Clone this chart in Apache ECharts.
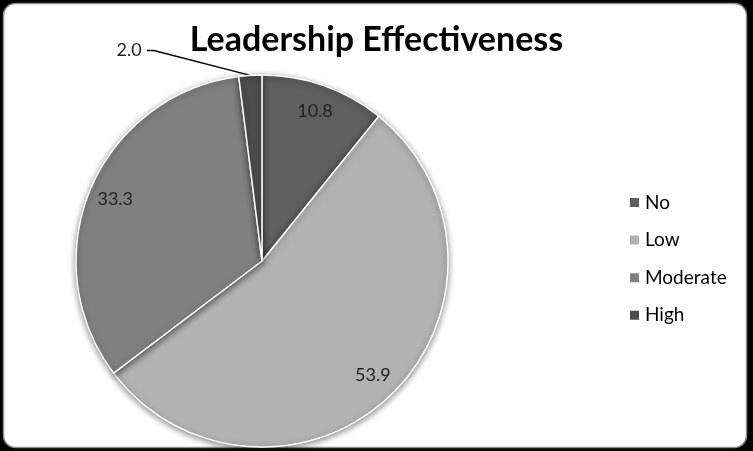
<!DOCTYPE html>
<html>
<head>
<meta charset="utf-8">
<script src="https://cdn.jsdelivr.net/npm/echarts@6/dist/echarts.min.js"></script>
<style>
html,body{margin:0;padding:0;background:#000;}
#chart{width:753px;height:451px;}
</style>
</head>
<body>
<div id="chart"></div>
<script>
const titleText = 'Leadership Effectiveness';
const categories = ['No', 'Low', 'Moderate', 'High'];
const values = [10.8, 53.9, 33.3, 2.0];
const colors = ['#5f5f5f', '#b2b2b2', '#808080', '#4d4d4d'];

const chart = echarts.init(document.getElementById('chart'));
const center = [262, 261];
const R = 186;
const fontFam = 'Lato, "Open Sans", sans-serif';

const sliceData = categories.map((c, i) => ({ name: c, value: values[i], itemStyle: { color: colors[i] } }));
const labelData = categories.map((c, i) => {
  const d = { name: c, value: values[i] };
  if (c === 'High') {
    d.label = { position: 'outside', distanceToLabelLine: 5, padding: [0, 0, 8, 0] };
    d.labelLine = { show: true, length: 25, length2: 102, minTurnAngle: 165.5, lineStyle: { color: '#000', width: 1.5 } };
  }
  return d;
});

chart.setOption({
  backgroundColor: '#000',
  graphic: [{
    type: 'rect', z: -10, silent: true,
    shape: { x: 3.5, y: 3.5, width: 743, height: 444, r: 12 },
    style: { fill: '#fff', stroke: '#8c8c8c', lineWidth: 1.5 }
  }],
  title: {
    text: titleText, left: 'center', top: 18,
    textStyle: { fontFamily: fontFam, fontWeight: 'bold', fontSize: 34, color: '#000' }
  },
  legend: {
    orient: 'vertical', left: 623, top: 188,
    data: categories, icon: 'rect', itemWidth: 11, itemHeight: 11, itemGap: 18.6,
    textStyle: { fontFamily: fontFam, fontSize: 19, color: '#000' }
  },
  series: [{
    type: 'pie', center: center, radius: [0, R], startAngle: 90, clockwise: true,
    data: sliceData, silent: true,
    label: { show: false }, labelLine: { show: false },
    itemStyle: { borderColor: '#fff', borderWidth: 1.5, shadowBlur: 6, shadowColor: 'rgba(0,0,0,0.45)', shadowOffsetY: 2 },
    emphasis: { disabled: true }
  }, {
    type: 'pie', center: center, radius: [R * 0.68, R], startAngle: 90, clockwise: true,
    data: labelData, silent: true,
    itemStyle: { color: 'transparent' },
    label: {
      show: true, position: 'inside', formatter: (p) => p.value.toFixed(1),
      fontFamily: fontFam, fontSize: 18, color: '#222'
    },
    labelLine: { show: false },
    emphasis: { disabled: true }
  }]
});
</script>
</body>
</html>
